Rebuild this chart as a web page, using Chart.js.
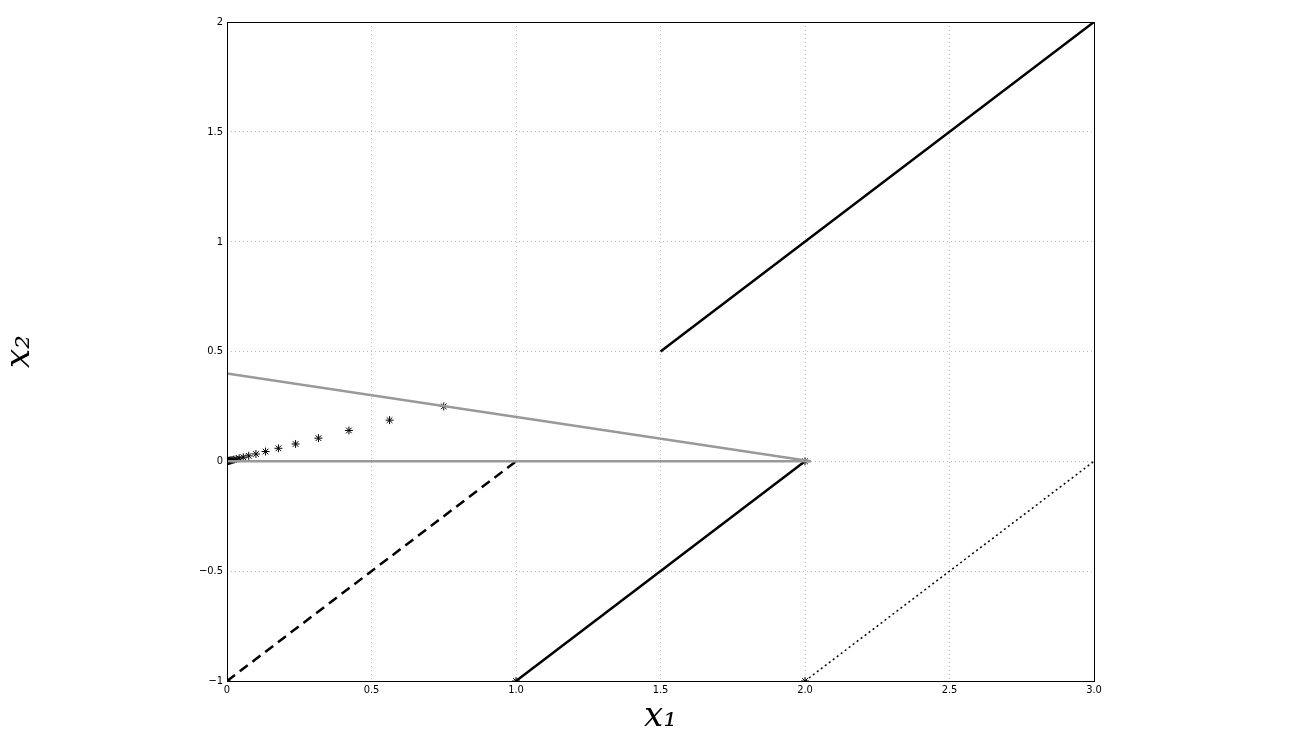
<!DOCTYPE html>
<html>
<head>
<meta charset="utf-8">
<script src="https://cdn.jsdelivr.net/npm/chart.js@4"></script>
<style>
  html, body { margin: 0; background: #fff; }
  #wrap { width: 1291px; height: 738px; }
</style>
</head>
<body>
<div id="wrap"><canvas id="c"></canvas></div>
<script>
// Segments as [x0, y0, x1, y1]
const upperSolid = [[1.5, 0.5], [3, 2]];
const lowerSolid = [[1, -1], [2, 0]];
const dashedSeg = [[0, -1], [1, 0]];
const dottedSeg = [[2, -1], [3, 0]];
const grayTop = [[0, 0.4], [2.02, 0]];
const grayAxis = [[0, 0], [2.02, 0]];
// Star markers (iterates)
const starX = [0.75, 0.5625, 0.4219, 0.3164, 0.2373, 0.178, 0.1335, 0.1001, 0.0751, 0.0563,
  0.0422, 0.0317, 0.0238, 0.0178, 0.0134, 0.01, 0.0075, 0.0056, 0.0042, 0.0032, 0.0024, 0.0018, 0.0013, 0.001, 0];
const starY = [0.25, 0.1875, 0.1406, 0.1055, 0.0791, 0.0593, 0.0445, 0.0334, 0.025, 0.0188,
  0.0141, 0.0106, 0.0079, 0.0059, 0.0045, 0.0033, 0.0025, 0.0019, 0.0014, 0.0011, 0.0008, 0.0006, 0.0004, 0.0003, 0];
const endStars = [[0, -1], [1, -1], [2, -1], [2, 0]];
const xTicks = [0, 0.5, 1, 1.5, 2, 2.5, 3];
const yTicks = [-1, -0.5, 0, 0.5, 1, 1.5, 2];

const pts = (a) => a.map(([x, y]) => ({ x, y }));
const line = (data, color, width, dash) => ({
  data: pts(data), showLine: true, borderColor: color, borderWidth: width,
  borderDash: dash || [], pointRadius: 0, fill: false,
});

const frame = {
  id: "frame",
  afterDraw(chart) {
    const { ctx, chartArea: a } = chart;
    ctx.save();
    ctx.strokeStyle = "#000";
    ctx.lineWidth = 1;
    ctx.strokeRect(a.left + 0.5, a.top + 0.5, a.right - a.left, a.bottom - a.top);
    ctx.restore();
  },
};

const tickFont = { family: "'DejaVu Sans Condensed', 'Liberation Sans Narrow', sans-serif", size: 11 };
const titleFont = { family: "'DejaVu Serif', serif", style: "italic", size: 34 };

new Chart(document.getElementById("c"), {
  type: "scatter",
  data: {
    datasets: [
      line(grayTop, "#999", 2.5),
      line(grayAxis, "#999", 2.5),
      line(upperSolid, "#000", 2.5),
      line(lowerSolid, "#000", 2.5),
      line(dashedSeg, "#000", 2.5, [10, 6]),
      line(dottedSeg, "#000", 1.5, [2, 3]),
      {
        data: starX.map((x, i) => ({ x, y: starY[i] })).concat(pts(endStars)),
        pointStyle: "star", pointRadius: 4, borderColor: "#000", borderWidth: 1, backgroundColor: "#000",
      },
    ],
  },
  options: {
    responsive: true,
    maintainAspectRatio: false,
    animation: false,
    layout: { padding: { top: 22, right: 197, left: 0, bottom: 0 } },
    plugins: { legend: { display: false }, tooltip: { enabled: false } },
    scales: {
      x: {
        min: 0, max: 3,
        afterBuildTicks(s) { s.ticks = xTicks.map((v) => ({ value: v })); },
        afterFit(s) { s.height = 57; },
        grid: { color: "#bbb", drawTicks: false },
        border: { display: false, dash: [1, 3] },
        ticks: { color: "#000", font: tickFont, padding: 3, maxRotation: 0 },
        title: { display: true, text: "x\u2081", color: "#000", font: titleFont, padding: { top: -4, bottom: 0 } },
      },
      y: {
        min: -1, max: 2,
        afterBuildTicks(s) { s.ticks = yTicks.map((v) => ({ value: v })); },
        afterFit(s) { s.width = 227; },
        grid: { color: "#bbb", drawTicks: false },
        border: { display: false, dash: [1, 3] },
        ticks: { color: "#000", font: tickFont, padding: 4, callback: (v) => String(v).replace("-", "\u2212") },
        title: { display: true, text: "x\u2082", color: "#000", font: titleFont, padding: { top: 0, bottom: 16 } },
      },
    },
  },
  plugins: [frame],
});
</script>
</body>
</html>
